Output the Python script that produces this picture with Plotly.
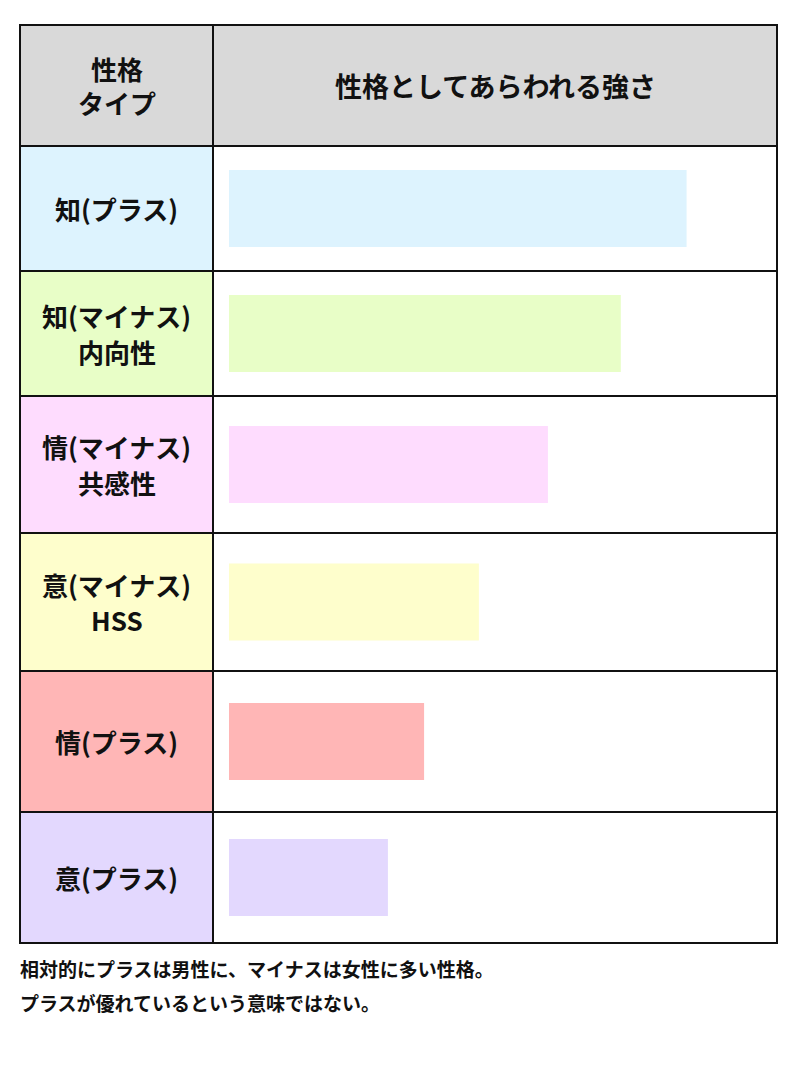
import plotly.graph_objects as go

# data
type_labels = [
    ["知(プラス)"],
    ["知(マイナス)", "内向性"],
    ["情(マイナス)", "共感性"],
    ["意(マイナス)", "HSS"],
    ["情(プラス)"],
    ["意(プラス)"],
]
strength = [83.5, 71.5, 58.2, 45.6, 35.6, 29.0]
cell_colors = ["#ddf3fe", "#e8fec7", "#fedcfe", "#fefecc", "#ffb6b6", "#e3d8fe"]
header_left = ["性格", "タイプ"]
header_right = "性格としてあらわれる強さ"
notes = [
    "相対的にプラスは男性に、マイナスは女性に多い性格。",
    "プラスが優れているという意味ではない。",
]

# the page body adds an 8px margin, so the figure is drawn 8px smaller
# and all pixel positions are shifted by that offset
OFF = 8
W, H = 800 - OFF, 1067 - OFF
FONT = "Noto Sans CJK JP"

# table geometry (pixels in the final page)
x_left, x_mid, x_right = 20, 213, 777
bar_x0 = 229
row_edges = [25, 146, 271, 396, 533, 671, 812, 943]
row_centers = [(row_edges[i] + row_edges[i + 1]) / 2 - OFF for i in range(1, len(row_edges) - 1)]
bar_thickness = 77
line_gap = 35


def px(x):
    return (x - OFF) / W


def py(y):
    return 1 - (y - OFF) / H


fig = go.Figure()

fig.add_trace(
    go.Bar(
        x=strength,
        y=row_centers,
        orientation="h",
        width=bar_thickness,
        marker=dict(color=cell_colors, line=dict(width=0)),
        hoverinfo="skip",
    )
)

shapes = []
# header cells
for x0, x1 in [(x_left, x_mid), (x_mid, x_right)]:
    shapes.append(dict(type="rect", xref="paper", yref="paper",
                       x0=px(x0), x1=px(x1), y0=py(row_edges[1]), y1=py(row_edges[0]),
                       fillcolor="#d9d9d9", line=dict(color="#111111", width=2), layer="below"))
# body rows
for i, color in enumerate(cell_colors):
    top, bot = row_edges[i + 1], row_edges[i + 2]
    shapes.append(dict(type="rect", xref="paper", yref="paper",
                       x0=px(x_left), x1=px(x_mid), y0=py(bot), y1=py(top),
                       fillcolor=color, line=dict(color="#111111", width=2), layer="below"))
    shapes.append(dict(type="rect", xref="paper", yref="paper",
                       x0=px(x_mid), x1=px(x_right), y0=py(bot), y1=py(top),
                       fillcolor="white", line=dict(color="#111111", width=2), layer="below"))

annotations = []


def add_lines(lines, cx, cy, size):
    n = len(lines)
    for k, txt in enumerate(lines):
        y = cy + (k - (n - 1) / 2) * line_gap
        annotations.append(dict(text="<b>%s</b>" % txt, xref="paper", yref="paper",
                                x=px(cx), y=py(y), xanchor="center", yanchor="middle",
                                showarrow=False, font=dict(family=FONT, size=size, color="#111111")))


add_lines(header_left, (x_left + x_mid) / 2, (row_edges[0] + row_edges[1]) / 2, 26)
add_lines([header_right], (x_mid + x_right) / 2, (row_edges[0] + row_edges[1]) / 2, 27)
for lines, cy in zip(type_labels, row_centers):
    add_lines(lines, (x_left + x_mid) / 2, cy + OFF, 26)

for k, txt in enumerate(notes):
    annotations.append(dict(text="<b>%s</b>" % txt, xref="paper", yref="paper",
                            x=px(x_left - 2), y=py(968 + k * 34), xanchor="left", yanchor="middle",
                            showarrow=False, font=dict(family=FONT, size=19, color="#111111")))

fig.update_layout(
    width=W,
    height=H,
    margin=dict(l=0, r=0, t=0, b=0),
    paper_bgcolor="white",
    plot_bgcolor="rgba(0,0,0,0)",
    showlegend=False,
    shapes=shapes,
    annotations=annotations,
    xaxis=dict(domain=[px(bar_x0), px(x_right)], range=[0, 100], visible=False, fixedrange=True),
    yaxis=dict(domain=[0, 1], range=[H, 0], visible=False, fixedrange=True),
)

fig.write_html("out.html", config={"displayModeBar": False})
